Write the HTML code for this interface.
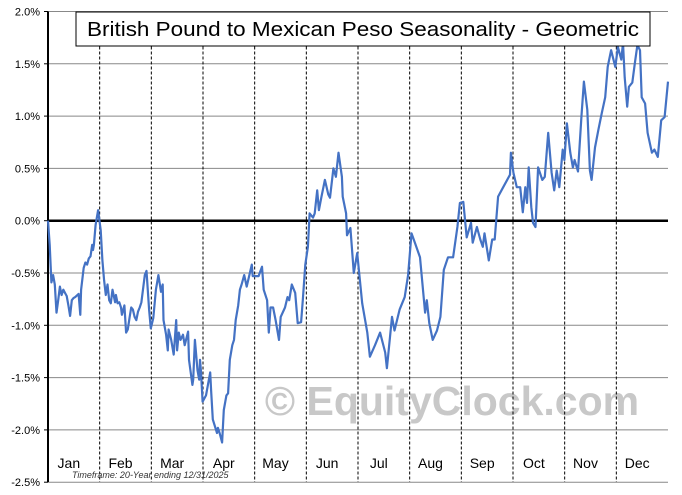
<!DOCTYPE html>
<html><head><meta charset="utf-8"><style>
html,body{margin:0;padding:0;background:#fff;}
svg{display:block;font-family:"Liberation Sans",sans-serif;}
</style></head><body>
<svg id="chart" width="682" height="495">
<rect x="0" y="0" width="682" height="495" fill="#fff"/>
<text x="452" y="415" font-size="41" font-weight="bold" fill="#c8c8c8" text-anchor="middle">© EquityClock.com</text>
<g id="grid"></g>
<g id="yticks"></g>
<g id="xticks"></g>
<path id="series" fill="none" stroke="#4472c4" stroke-width="2.2" stroke-linejoin="round"/>
<rect x="76" y="12" width="574" height="34" fill="#fff" stroke="#000" stroke-width="1"/>
<text x="363" y="36" font-size="20.5" text-anchor="middle" fill="#000" textLength="552" lengthAdjust="spacingAndGlyphs">British Pound to Mexican Peso Seasonality - Geometric</text>
<text x="72" y="478" font-size="9" font-style="italic" fill="#333">Timeframe: 20-Year ending 12/31/2025</text>
</svg>
<script>
const months = ["Jan","Feb","Mar","Apr","May","Jun","Jul","Aug","Sep","Oct","Nov","Dec"];
const yTicks = [2.0,1.5,1.0,0.5,0.0,-0.5,-1.0,-1.5,-2.0,-2.5];
const days = [0,1,2,3,4,5,6,7,8,9,10,11,12,13,14,15,16,18,19,19.5,21,22,23,24,25,26,26.5,27,28,29.5,31,32,33,34,35,36,37,38,39.5,40,41,42,43,43.5,45,46,47,48,49,50,51,52,53,54,55,57,58,59.5,60.5,62,63.5,65,66.5,67.5,68,69.5,70.5,71,72.5,74,75.5,76,77,78,79.5,80.5,82.5,83,85,85.5,86.5,88,89,89.5,90,91,93,95.5,96,97,99.5,100,101,102.5,103.5,105,106,107,108.5,109.5,110.5,112,113,114,115.5,117,120,120.5,124,126,127,129,130,131,132.5,134,136,137,139.5,141,142,143.5,145.5,147,149,150,151.5,153,154,156,157,158.5,159.5,161,163,165,166,168,169.5,171,173,173.5,175.5,176,178,180,182,185,188,189.5,192.5,195.5,198.5,199.5,202.5,204,207,210,212,214,216,219,222,223,224.5,226.5,229,231,233,235.5,238.5,241,242.5,244.5,246.5,249,250,252.5,254.5,256,257,259.5,261.5,263,265,268,272,272.5,274,276,278,279.5,281,282,283,284.5,285.5,287,288.5,291,292.5,294.5,296.5,298,299.5,301,303,304,305.5,307.5,309,310,312,314,315.5,317.5,319,320,322,324,326,328,329.5,331.5,334,335.5,337.5,338.5,339.5,341,342,344,345.5,347,348.5,349.5,351.5,353,355.5,357,359,361,363,365];
const values = [0,-0.23,-0.59,-0.52,-0.61,-0.88,-0.76,-0.63,-0.71,-0.66,-0.69,-0.72,-0.81,-0.91,-0.76,-0.74,-0.73,-0.70,-0.90,-0.66,-0.45,-0.40,-0.42,-0.36,-0.34,-0.23,-0.28,-0.23,-0.04,0.10,-0.09,-0.38,-0.57,-0.71,-0.61,-0.76,-0.79,-0.66,-0.78,-0.71,-0.79,-0.78,-0.83,-0.90,-0.81,-1.07,-1.04,-0.93,-0.83,-0.85,-0.92,-0.95,-0.87,-0.83,-0.78,-0.52,-0.48,-0.85,-1.03,-0.93,-0.66,-0.52,-0.68,-0.61,-0.95,-1.09,-1.24,-1.04,-1.14,-1.28,-0.95,-1.24,-1.07,-1.14,-1.09,-1.19,-1.06,-1.33,-1.57,-1.52,-1.14,-1.43,-1.52,-1.33,-1.43,-1.73,-1.67,-1.45,-1.62,-1.90,-2.03,-1.98,-2.03,-2.12,-1.81,-1.67,-1.65,-1.33,-1.19,-1.14,-0.95,-0.81,-0.66,-0.61,-0.52,-0.63,-0.42,-0.53,-0.53,-0.44,-0.66,-0.76,-1.07,-0.83,-0.83,-0.95,-1.14,-0.92,-0.83,-0.73,-0.76,-0.61,-0.69,-0.98,-0.97,-0.76,-0.42,-0.25,0.07,0.03,0.07,0.29,0.10,0.23,0.39,0.25,0.22,0.50,0.42,0.65,0.42,0.23,0.07,-0.14,-0.07,-0.50,-0.31,-0.79,-1.07,-1.30,-1.19,-1.07,-1.26,-1.41,-0.92,-1.05,-0.85,-0.73,-0.52,-0.12,-0.21,-0.35,-0.88,-0.76,-0.98,-1.14,-1.05,-0.92,-0.47,-0.35,-0.35,-0.06,0.17,0.18,-0.16,-0.02,-0.21,-0.06,-0.18,-0.25,-0.12,-0.38,-0.18,-0.18,0.23,0.32,0.44,0.65,0.46,0.32,0.32,0.08,0.32,0.17,0.51,0.13,-0.02,-0.06,0.51,0.39,0.42,0.84,0.46,0.29,0.48,0.32,0.68,0.58,0.93,0.65,0.51,0.58,0.47,0.99,1.33,1.06,0.48,0.39,0.70,0.87,1.03,1.18,1.47,1.63,1.47,1.66,1.54,1.70,1.37,1.09,1.28,1.32,1.51,1.68,1.63,1.18,1.12,0.84,0.65,0.68,0.61,0.96,0.99,1.33];

const NS="http://www.w3.org/2000/svg";
const L=48,R=668,T=11.5,B=482;
function xScale(d){return L+(d/365)*(R-L);}
function yScale(v){return 220.7-v*104.6;}
function mk(tag,attrs,parent){const e=document.createElementNS(NS,tag);for(const k in attrs)e.setAttribute(k,attrs[k]);parent.appendChild(e);return e;}
const grid=document.getElementById('grid'),yt=document.getElementById('yticks'),xt=document.getElementById('xticks');
yTicks.forEach(v=>{
  const y=yScale(v);
  const ln=mk('line',{x1:L,x2:R,y1:y,y2:y,stroke:v===0?'#000':'#888','stroke-width':v===0?2.5:1},grid);
  
  
  const tk=mk('line',{x1:L-4,x2:L,y1:y,y2:y,stroke:'#000','stroke-width':1},grid);
  
  
  const t=mk('text',{x:L-8,y:y+4,'font-size':11,'text-anchor':'end',fill:'#000'},yt);
  t.textContent=v.toFixed(1)+'%';
  
  
});
const mw=(R-L)/12;
months.forEach((m,i)=>{
  if(i>0){
    const x=L+i*mw;
    const d=mk('line',{x1:x,x2:x,y1:T,y2:B,stroke:'#000','stroke-width':1,'stroke-dasharray':'3,2'},grid);
    
    
  }
  const t=mk('text',{x:L+(i+0.5)*mw-5,y:468,'font-size':14,'text-anchor':'middle',fill:'#000'},xt);
  t.textContent=m;
  
  
});
const ax=mk('line',{x1:L,x2:L,y1:T,y2:B,stroke:'#000','stroke-width':2},grid);


let d='';
days.forEach((dd,i)=>{d+=(i?'L':'M')+xScale(dd).toFixed(1)+','+yScale(values[i]).toFixed(1);});
document.getElementById('series').setAttribute('d',d);
</script>
</body></html>
